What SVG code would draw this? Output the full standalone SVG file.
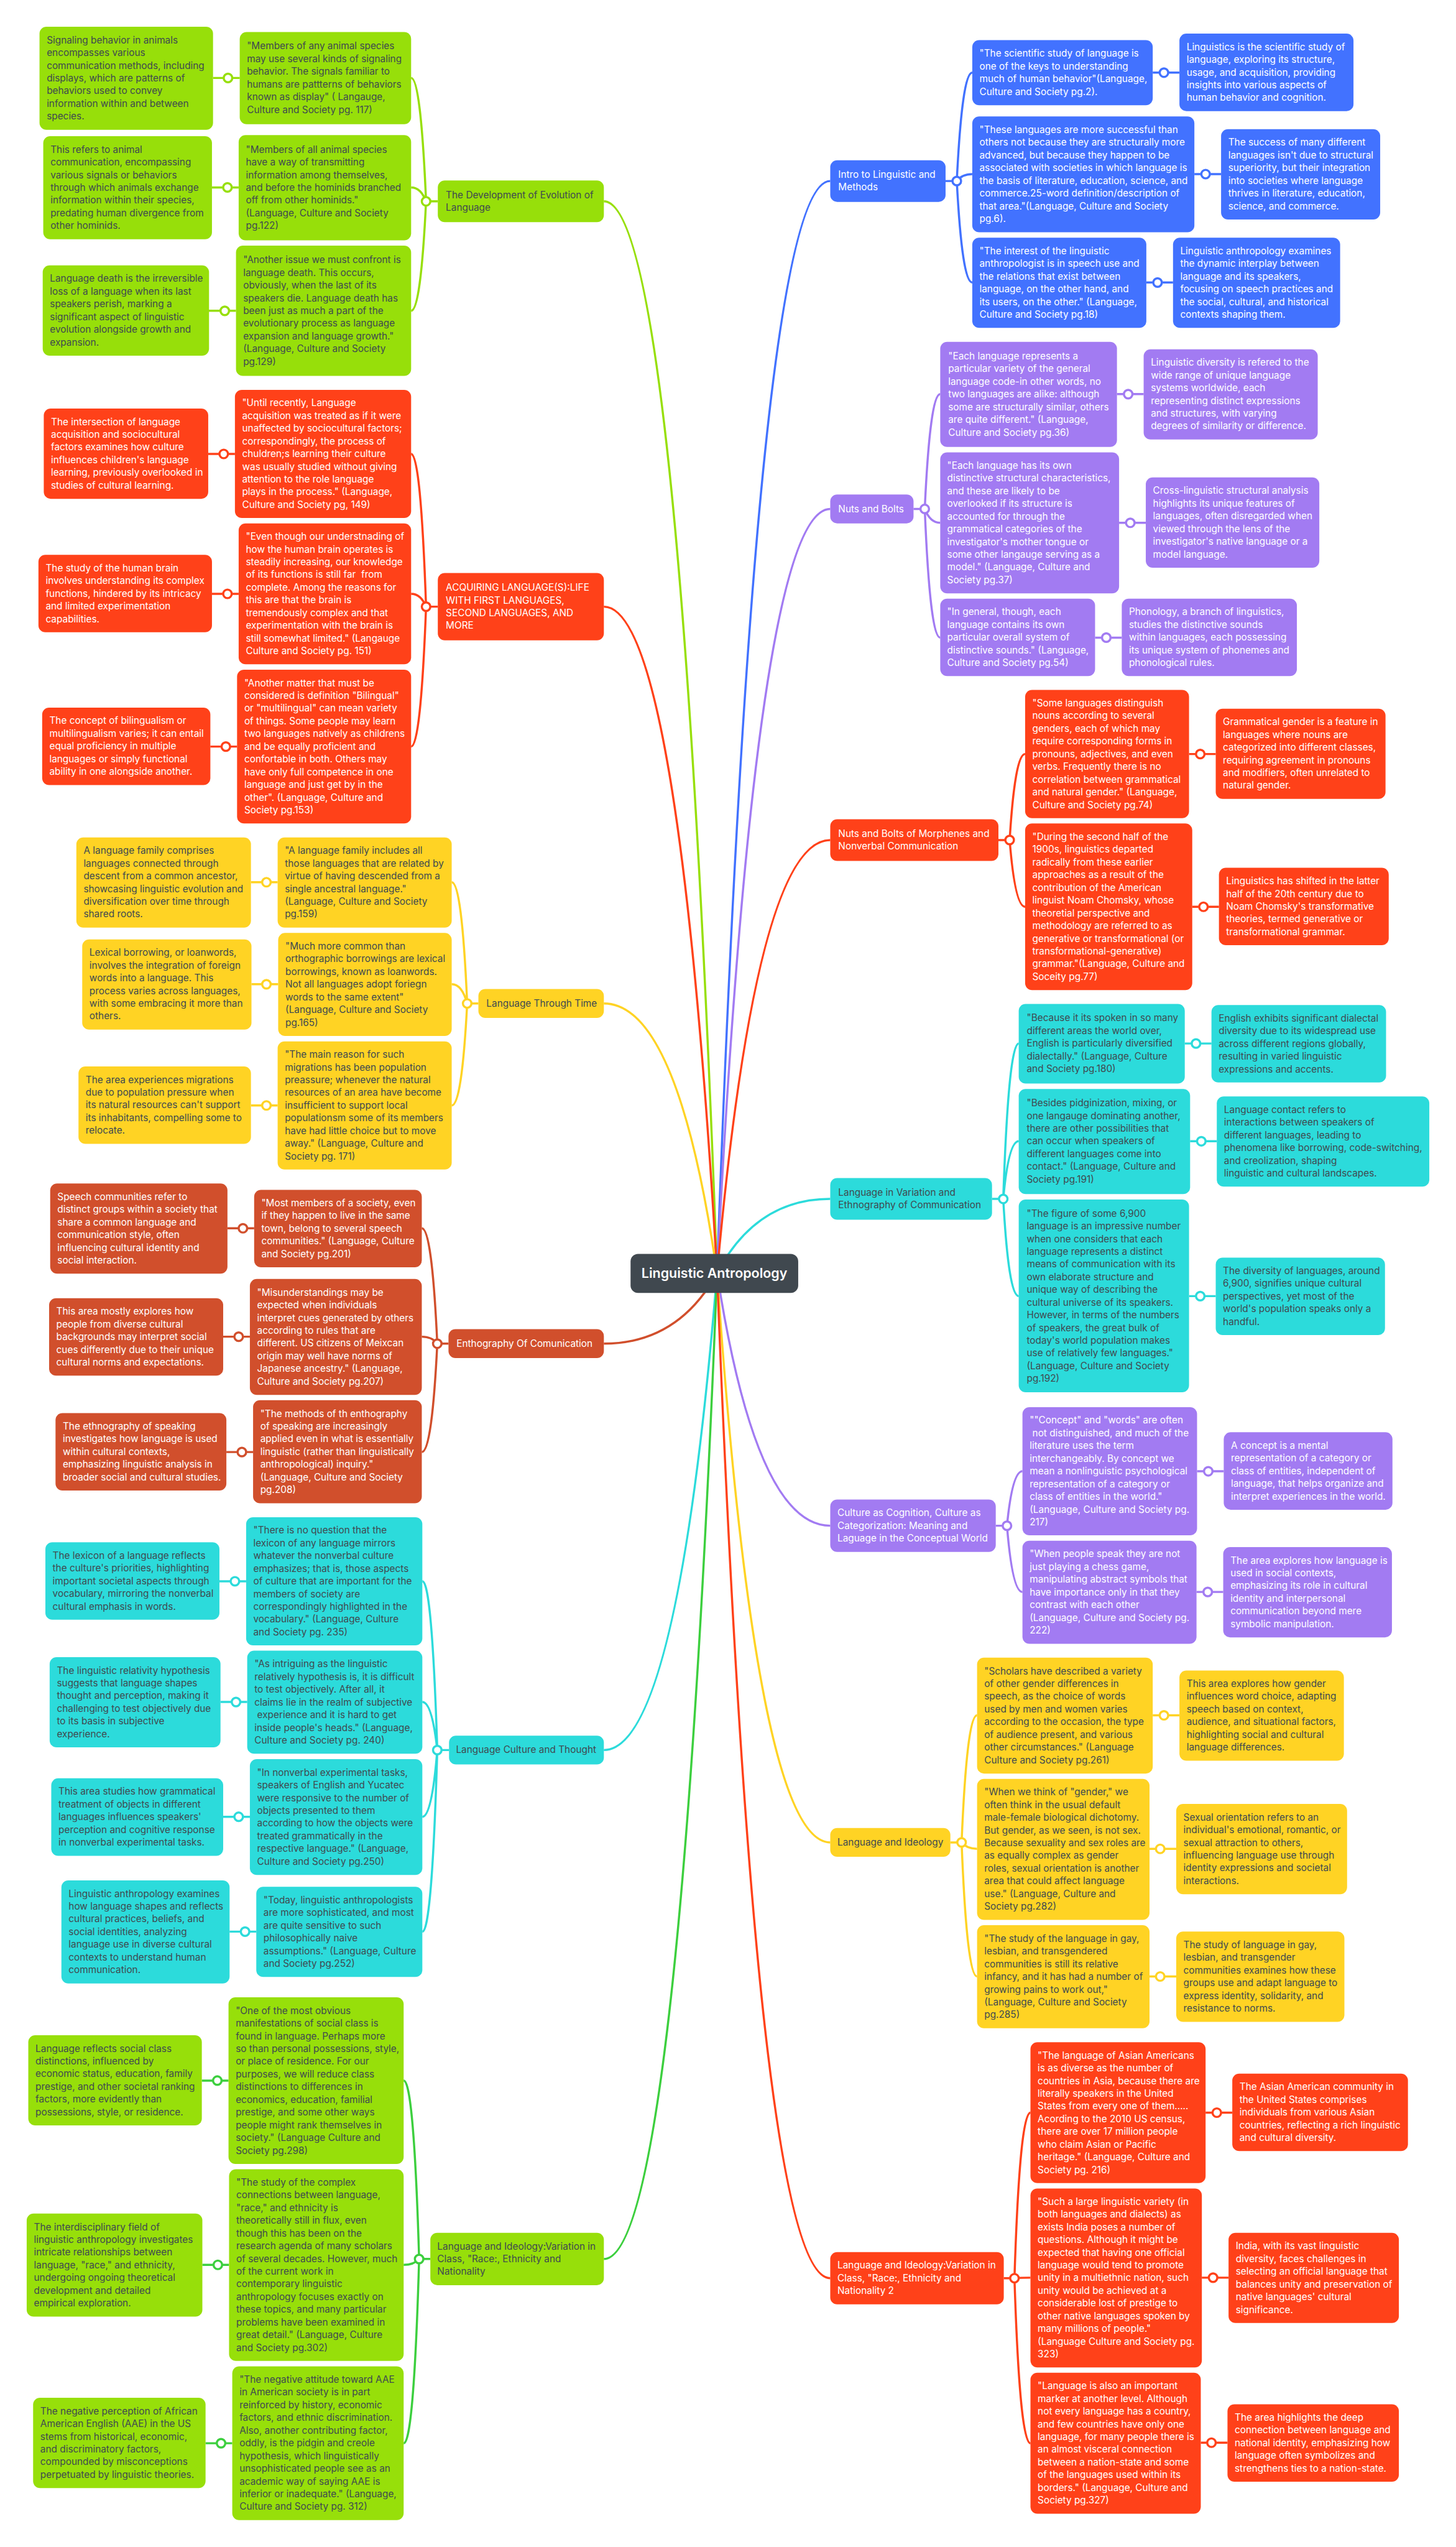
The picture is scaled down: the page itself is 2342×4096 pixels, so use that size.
<svg xmlns="http://www.w3.org/2000/svg" width="2342" height="4096" viewBox="0 0 2342 4096">
<style>
rect{rx:13px;ry:13px}
text{font-family:Inter,"Noto Sans","Liberation Sans",sans-serif;font-size:17.9px;white-space:pre}
.g rect,.g2 rect{fill:#97DF0A}.r rect{fill:#FF4119}.y rect{fill:#FFD324}.t rect{fill:#2CDBDB}.br rect{fill:#D14F2C}.b rect{fill:#4272FF}.p rect{fill:#A27BF2}
.g text,.g2 text,.y text,.t text{fill:#404A50}
.r text,.br text,.b text,.p text{fill:#fff}
#connectors path{fill:none;stroke-width:4}
#connectors circle{fill:#fff;stroke-width:4;r:8px}
.g{stroke:#97DF0A}.g2{stroke:#3CCF3E}.r{stroke:#FF4119}.y{stroke:#FFD324}.t{stroke:#2CDBDB}.br{stroke:#D14F2C}.b{stroke:#4272FF}.p{stroke:#A27BF2}
g.g,g.g2,g.r,g.y,g.t,g.br,g.b,g.p{stroke-width:0}
#connectors g{stroke-width:4}
</style>
<g transform="scale(0.85882)">
<g id="connectors">
<g class="g"><path d="M1343 2384Q1270 377 1131 377M820 377H798M798 377Q788 146 770 146M798 377Q788 351 770 351M798 377Q788 582 770 582M399 146H449M397 351H447M391 582H442"/><circle cx="798" cy="377" r="8"/><circle cx="427" cy="146" r="8"/><circle cx="426" cy="351" r="8"/><circle cx="421" cy="582" r="8"/></g>
<g class="r"><path d="M1343 2384Q1270 1136 1131 1136M820 1136H798M798 1136Q788 850 770 850M798 1136Q788 1112 770 1112M798 1136Q788 1398 770 1398M390 850H440M397 1112H447M394 1398H444"/><circle cx="798" cy="1136" r="8"/><circle cx="419" cy="850" r="8"/><circle cx="426" cy="1112" r="8"/><circle cx="423" cy="1398" r="8"/></g>
<g class="y"><path d="M1343 2384Q1270 1879 1131 1879M896 1879H875M875 1879Q865 1652 846 1652M875 1879Q865 1843 846 1843M875 1879Q865 2070 846 2070M470 1652H520M471 1843H521M470 2070H520"/><circle cx="875" cy="1879" r="8"/><circle cx="499" cy="1652" r="8"/><circle cx="499" cy="1843" r="8"/><circle cx="499" cy="2070" r="8"/></g>
<g class="br"><path d="M1343 2384Q1270 2516 1131 2516M840 2516H819M819 2516Q809 2300 790 2300M819 2516Q809 2503 790 2503M819 2516Q809 2719 790 2719M426 2300H476M418 2503H468M424 2719H474"/><circle cx="819" cy="2516" r="8"/><circle cx="455" cy="2300" r="8"/><circle cx="447" cy="2503" r="8"/><circle cx="453" cy="2719" r="8"/></g>
<g class="t"><path d="M1343 2384Q1270 3277 1131 3277M841 3277H819M819 3277Q809 2961 791 2961M819 3277Q809 3187 791 3187M819 3277Q809 3402 791 3402M819 3277Q809 3617 791 3617M411 2961H461M413 3187H463M418 3402H468M430 3617H480"/><circle cx="819" cy="3277" r="8"/><circle cx="440" cy="2961" r="8"/><circle cx="442" cy="3187" r="8"/><circle cx="447" cy="3402" r="8"/><circle cx="459" cy="3617" r="8"/></g>
<g class="g2"><path d="M1343 2384Q1270 4230 1131 4230M806 4230H785M785 4230Q775 3896 756 3896M785 4230Q775 4241 756 4241M785 4230Q775 4575 756 4575M378 3896H428M379 4241H429M385 4575H435"/><circle cx="785" cy="4230" r="8"/><circle cx="407" cy="3896" r="8"/><circle cx="408" cy="4241" r="8"/><circle cx="414" cy="4575" r="8"/></g>
<g class="b"><path d="M1343 2384Q1416 339 1555 339M1771 339H1792M1792 339Q1802 136 1821 136M1792 339Q1802 326 1821 326M1792 339Q1802 529 1821 529M2159 136H2209M2237 326H2287M2147 529H2197"/><circle cx="1792" cy="339" r="8"/><circle cx="2180" cy="136" r="8"/><circle cx="2258" cy="326" r="8"/><circle cx="2168" cy="529" r="8"/></g>
<g class="p"><path d="M1343 2384Q1416 953 1555 953M1711 953H1732M1732 953Q1742 738 1761 738M1732 953Q1742 979 1761 979M1732 953Q1742 1194 1761 1194M2092 738H2142M2096 979H2146M2051 1194H2101"/><circle cx="1732" cy="953" r="8"/><circle cx="2113" cy="738" r="8"/><circle cx="2117" cy="979" r="8"/><circle cx="2072" cy="1194" r="8"/></g>
<g class="r"><path d="M1343 2384Q1416 1573 1555 1573M1870 1573H1891M1891 1573Q1901 1412 1920 1412M1891 1573Q1901 1698 1920 1698M2227 1412H2277M2233 1698H2283"/><circle cx="1891" cy="1573" r="8"/><circle cx="2248" cy="1412" r="8"/><circle cx="2254" cy="1698" r="8"/></g>
<g class="t"><path d="M1343 2384Q1416 2245 1555 2245M1858 2245H1879M1879 2245Q1889 1954 1908 1954M1879 2245Q1889 2137 1908 2137M1879 2245Q1889 2427 1908 2427M2219 1954H2269M2229 2137H2279M2227 2427H2277"/><circle cx="1879" cy="2245" r="8"/><circle cx="2240" cy="1954" r="8"/><circle cx="2250" cy="2137" r="8"/><circle cx="2248" cy="2427" r="8"/></g>
<g class="p"><path d="M1343 2384Q1416 2857 1555 2857M1865 2857H1886M1886 2857Q1896 2755 1915 2755M1886 2857Q1896 2981 1915 2981M2242 2755H2292M2241 2981H2291"/><circle cx="1886" cy="2857" r="8"/><circle cx="2263" cy="2755" r="8"/><circle cx="2262" cy="2981" r="8"/></g>
<g class="y"><path d="M1343 2384Q1416 3450 1555 3450M1780 3450H1801M1801 3450Q1811 3212 1830 3212M1801 3450Q1811 3462 1830 3462M1801 3450Q1811 3701 1830 3701M2159 3212H2209M2153 3462H2203M2153 3701H2203"/><circle cx="1801" cy="3450" r="8"/><circle cx="2180" cy="3212" r="8"/><circle cx="2173" cy="3462" r="8"/><circle cx="2173" cy="3701" r="8"/></g>
<g class="r"><path d="M1343 2384Q1416 4266 1555 4266M1880 4266H1900M1900 4266Q1910 3956 1930 3956M1900 4266Q1910 4265 1930 4265M1900 4266Q1910 4575 1930 4575M2258 3956H2308M2251 4265H2301M2249 4574H2299"/><circle cx="1900" cy="4266" r="8"/><circle cx="2279" cy="3956" r="8"/><circle cx="2272" cy="4265" r="8"/><circle cx="2269" cy="4574" r="8"/></g>
</g>

<g id="root"><rect x="1181" y="2348" width="314" height="73" fill="#40484F" style="rx:14px;ry:14px"/><text x="1338" y="2393" text-anchor="middle" fill="#fff" style="font-size:25px;font-weight:600">Linguistic Antropology</text></g>

<g class="g">
<g id="n-t1"><rect x="820" y="338" width="311" height="78"/><text y="371.1"><tspan x="835">The Development of Evolution of</tspan><tspan x="835" dy="23.8">Language</tspan></text></g>
<g id="n-q1a"><rect x="449" y="60" width="321" height="172.5"/><text y="92.5"><tspan x="462.5">"Members of any animal species</tspan><tspan x="462.5" dy="23.8">may use several kinds of signaling</tspan><tspan x="462.5" dy="23.8">behavior. The signals familiar to</tspan><tspan x="462.5" dy="23.8">humans are pattterns of behaviors</tspan><tspan x="462.5" dy="23.8">known as display" ( Langauge,</tspan><tspan x="462.5" dy="23.8">Culture and Society pg. 117)</tspan></text></g>
<g id="n-l1a"><rect x="74" y="50" width="325" height="193"/><text y="81.1"><tspan x="87.5">Signaling behavior in animals</tspan><tspan x="87.5" dy="23.8">encompasses various</tspan><tspan x="87.5" dy="23.8">communication methods, including</tspan><tspan x="87.5" dy="23.8">displays, which are patterns of</tspan><tspan x="87.5" dy="23.8">behaviors used to convey</tspan><tspan x="87.5" dy="23.8">information within and between</tspan><tspan x="87.5" dy="23.8">species.</tspan></text></g>
<g id="n-q1b"><rect x="447" y="253" width="323" height="197"/><text y="286.1"><tspan x="460.5">"Members of all animal species</tspan><tspan x="460.5" dy="23.8">have a way of transmitting</tspan><tspan x="460.5" dy="23.8">information among themselves,</tspan><tspan x="460.5" dy="23.8">and before the hominids branched</tspan><tspan x="460.5" dy="23.8">off from other hominids."</tspan><tspan x="460.5" dy="23.8">(Language, Culture and Society</tspan><tspan x="460.5" dy="23.8">pg.122)</tspan></text></g>
<g id="n-l1b"><rect x="81" y="255" width="316" height="193"/><text y="286.1"><tspan x="94.5">This refers to animal</tspan><tspan x="94.5" dy="23.8">communication, encompassing</tspan><tspan x="94.5" dy="23.8">various signals or behaviors</tspan><tspan x="94.5" dy="23.8">through which animals exchange</tspan><tspan x="94.5" dy="23.8">information within their species,</tspan><tspan x="94.5" dy="23.8">predating human divergence from</tspan><tspan x="94.5" dy="23.8">other hominids.</tspan></text></g>
<g id="n-q1c"><rect x="442" y="460" width="328" height="244"/><text y="492.8"><tspan x="455.5">"Another issue we must confront is</tspan><tspan x="455.5" dy="23.8">language death. This occurs,</tspan><tspan x="455.5" dy="23.8">obviously, when the last of its</tspan><tspan x="455.5" dy="23.8">speakers die. Language death has</tspan><tspan x="455.5" dy="23.8">been just as much a part of the</tspan><tspan x="455.5" dy="23.8">evolutionary process as language</tspan><tspan x="455.5" dy="23.8">expansion and language growth."</tspan><tspan x="455.5" dy="23.8">(Language, Culture and Society</tspan><tspan x="455.5" dy="23.8">pg.129)</tspan></text></g>
<g id="n-l1c"><rect x="80" y="497" width="311.5" height="169"/><text y="528"><tspan x="93.5">Language death is the irreversible</tspan><tspan x="93.5" dy="23.8">loss of a language when its last</tspan><tspan x="93.5" dy="23.8">speakers perish, marking a</tspan><tspan x="93.5" dy="23.8">significant aspect of linguistic</tspan><tspan x="93.5" dy="23.8">evolution alongside growth and</tspan><tspan x="93.5" dy="23.8">expansion.</tspan></text></g>
</g>

<g class="r">
<g id="n-t2"><rect x="820" y="1073" width="311" height="126"/><text y="1106.3"><tspan x="835">ACQUIRING LANGUAGE(S):LIFE</tspan><tspan x="835" dy="23.8">WITH FIRST LANGUAGES,</tspan><tspan x="835" dy="23.8">SECOND LANGUAGES, AND</tspan><tspan x="835" dy="23.8">MORE</tspan></text></g>
<g id="n-q2a"><rect x="440" y="730" width="330" height="240"/><text y="760.8"><tspan x="453.5">"Until recently, Language</tspan><tspan x="453.5" dy="23.8">acquisition was treated as if it were</tspan><tspan x="453.5" dy="23.8">unaffected by sociocultural factors;</tspan><tspan x="453.5" dy="23.8">correspondingly, the process of</tspan><tspan x="453.5" dy="23.8">chuldren;s learning their culture</tspan><tspan x="453.5" dy="23.8">was usually studied without giving</tspan><tspan x="453.5" dy="23.8">attention to the role language</tspan><tspan x="453.5" dy="23.8">plays in the process." (Language,</tspan><tspan x="453.5" dy="23.8">Culture and Society pg, 149)</tspan></text></g>
<g id="n-l2a"><rect x="82" y="765" width="308" height="169"/><text y="796"><tspan x="95.5">The intersection of language</tspan><tspan x="95.5" dy="23.8">acquisition and sociocultural</tspan><tspan x="95.5" dy="23.8">factors examines how culture</tspan><tspan x="95.5" dy="23.8">influences children's language</tspan><tspan x="95.5" dy="23.8">learning, previously overlooked in</tspan><tspan x="95.5" dy="23.8">studies of cultural learning.</tspan></text></g>
<g id="n-q2b"><rect x="447" y="980" width="323" height="264"/><text y="1010.9"><tspan x="460.5">"Even though our understnading of</tspan><tspan x="460.5" dy="23.8">how the human brain operates is</tspan><tspan x="460.5" dy="23.8">steadily increasing, our knowledge</tspan><tspan x="460.5" dy="23.8">of its functions is still far  from</tspan><tspan x="460.5" dy="23.8">complete. Among the reasons for</tspan><tspan x="460.5" dy="23.8">this are that the brain is</tspan><tspan x="460.5" dy="23.8">tremendously complex and that</tspan><tspan x="460.5" dy="23.8">experimentation with the brain is</tspan><tspan x="460.5" dy="23.8">still somewhat limited." (Langauge</tspan><tspan x="460.5" dy="23.8">Culture and Society pg. 151)</tspan></text></g>
<g id="n-l2b"><rect x="72" y="1039" width="325" height="145"/><text y="1069.9"><tspan x="85.5">The study of the human brain</tspan><tspan x="85.5" dy="23.8">involves understanding its complex</tspan><tspan x="85.5" dy="23.8">functions, hindered by its intricacy</tspan><tspan x="85.5" dy="23.8">and limited experimentation</tspan><tspan x="85.5" dy="23.8">capabilities.</tspan></text></g>
<g id="n-q2c"><rect x="444" y="1254" width="326" height="288"/><text y="1285"><tspan x="457.5">"Another matter that must be</tspan><tspan x="457.5" dy="23.8">considered is definition "Bilingual"</tspan><tspan x="457.5" dy="23.8">or "multilingual" can mean variety</tspan><tspan x="457.5" dy="23.8">of things. Some people may learn</tspan><tspan x="457.5" dy="23.8">two languages natively as childrens</tspan><tspan x="457.5" dy="23.8">and be equally proficient and</tspan><tspan x="457.5" dy="23.8">confortable in both. Others may</tspan><tspan x="457.5" dy="23.8">have only full competence in one</tspan><tspan x="457.5" dy="23.8">language and just get by in the</tspan><tspan x="457.5" dy="23.8">other". (Language, Culture and</tspan><tspan x="457.5" dy="23.8">Society pg.153)</tspan></text></g>
<g id="n-l2c"><rect x="79" y="1325" width="315" height="145"/><text y="1355.9"><tspan x="92.5">The concept of bilingualism or</tspan><tspan x="92.5" dy="23.8">multilingualism varies; it can entail</tspan><tspan x="92.5" dy="23.8">equal proficiency in multiple</tspan><tspan x="92.5" dy="23.8">languages or simply functional</tspan><tspan x="92.5" dy="23.8">ability in one alongside another.</tspan></text></g>
</g>

<g class="y">
<g id="n-t3"><rect x="896" y="1852" width="235" height="54"/><text y="1885"><tspan x="911">Language Through Time</tspan></text></g>
<g id="n-q3a"><rect x="520" y="1568" width="326" height="169"/><text y="1599"><tspan x="533.5">"A language family includes all</tspan><tspan x="533.5" dy="23.8">those languages that are related by</tspan><tspan x="533.5" dy="23.8">virtue of having descended from a</tspan><tspan x="533.5" dy="23.8">single ancestral language."</tspan><tspan x="533.5" dy="23.8">(Language, Culture and Society</tspan><tspan x="533.5" dy="23.8">pg.159)</tspan></text></g>
<g id="n-l3a"><rect x="143" y="1568" width="327" height="169"/><text y="1599"><tspan x="156.5">A language family comprises</tspan><tspan x="156.5" dy="23.8">languages connected through</tspan><tspan x="156.5" dy="23.8">descent from a common ancestor,</tspan><tspan x="156.5" dy="23.8">showcasing linguistic evolution and</tspan><tspan x="156.5" dy="23.8">diversification over time through</tspan><tspan x="156.5" dy="23.8">shared roots.</tspan></text></g>
<g id="n-q3b"><rect x="521" y="1747" width="325" height="193"/><text y="1778.1"><tspan x="534.5">"Much more common than</tspan><tspan x="534.5" dy="23.8">orthographic borrowings are lexical</tspan><tspan x="534.5" dy="23.8">borrowings, known as loanwords.</tspan><tspan x="534.5" dy="23.8">Not all languages adopt foriegn</tspan><tspan x="534.5" dy="23.8">words to the same extent"</tspan><tspan x="534.5" dy="23.8">(Language, Culture and Society</tspan><tspan x="534.5" dy="23.8">pg.165)</tspan></text></g>
<g id="n-l3b"><rect x="154" y="1759" width="317" height="169"/><text y="1790"><tspan x="167.5">Lexical borrowing, or loanwords,</tspan><tspan x="167.5" dy="23.8">involves the integration of foreign</tspan><tspan x="167.5" dy="23.8">words into a language. This</tspan><tspan x="167.5" dy="23.8">process varies across languages,</tspan><tspan x="167.5" dy="23.8">with some embracing it more than</tspan><tspan x="167.5" dy="23.8">others.</tspan></text></g>
<g id="n-q3c"><rect x="520" y="1950" width="326" height="240"/><text y="1980.8"><tspan x="533.5">"The main reason for such</tspan><tspan x="533.5" dy="23.8">migrations has been population</tspan><tspan x="533.5" dy="23.8">preassure; whenever the natural</tspan><tspan x="533.5" dy="23.8">resources of an area have become</tspan><tspan x="533.5" dy="23.8">insufficient to support local</tspan><tspan x="533.5" dy="23.8">populationsm some of its members</tspan><tspan x="533.5" dy="23.8">have had little choice but to move</tspan><tspan x="533.5" dy="23.8">away." (Language, Culture and</tspan><tspan x="533.5" dy="23.8">Society pg. 171)</tspan></text></g>
<g id="n-l3c"><rect x="147" y="1997" width="323" height="145"/><text y="2027.9"><tspan x="160.5">The area experiences migrations</tspan><tspan x="160.5" dy="23.8">due to population pressure when</tspan><tspan x="160.5" dy="23.8">its natural resources can't support</tspan><tspan x="160.5" dy="23.8">its inhabitants, compelling some to</tspan><tspan x="160.5" dy="23.8">relocate.</tspan></text></g>
</g>

<g class="br">
<g id="n-t4"><rect x="840" y="2489" width="291" height="54"/><text y="2522"><tspan x="855">Enthography Of Comunication</tspan></text></g>
<g id="n-q4a"><rect x="476" y="2228" width="314" height="145"/><text y="2258.9"><tspan x="489.5">"Most members of a society, even</tspan><tspan x="489.5" dy="23.8">if they happen to live in the same</tspan><tspan x="489.5" dy="23.8">town, belong to several speech</tspan><tspan x="489.5" dy="23.8">communities." (Language, Culture</tspan><tspan x="489.5" dy="23.8">and Society pg.201)</tspan></text></g>
<g id="n-l4a"><rect x="94" y="2216" width="332" height="169"/><text y="2247"><tspan x="107.5">Speech communities refer to</tspan><tspan x="107.5" dy="23.8">distinct groups within a society that</tspan><tspan x="107.5" dy="23.8">share a common language and</tspan><tspan x="107.5" dy="23.8">communication style, often</tspan><tspan x="107.5" dy="23.8">influencing cultural identity and</tspan><tspan x="107.5" dy="23.8">social interaction.</tspan></text></g>
<g id="n-q4b"><rect x="468" y="2395" width="322" height="217"/><text y="2426.2"><tspan x="481.5">"Misunderstandings may be</tspan><tspan x="481.5" dy="23.8">expected when individuals</tspan><tspan x="481.5" dy="23.8">interpret cues generated by others</tspan><tspan x="481.5" dy="23.8">according to rules that are</tspan><tspan x="481.5" dy="23.8">different. US citizens of Meixcan</tspan><tspan x="481.5" dy="23.8">origin may well have norms of</tspan><tspan x="481.5" dy="23.8">Japanese ancestry." (Language,</tspan><tspan x="481.5" dy="23.8">Culture and Society pg.207)</tspan></text></g>
<g id="n-l4b"><rect x="92" y="2431" width="326" height="145"/><text y="2461.9"><tspan x="105.5">This area mostly explores how</tspan><tspan x="105.5" dy="23.8">people from diverse cultural</tspan><tspan x="105.5" dy="23.8">backgrounds may interpret social</tspan><tspan x="105.5" dy="23.8">cues differently due to their unique</tspan><tspan x="105.5" dy="23.8">cultural norms and expectations.</tspan></text></g>
<g id="n-q4c"><rect x="474" y="2622" width="316" height="193"/><text y="2653.1"><tspan x="487.5">"The methods of th enthography</tspan><tspan x="487.5" dy="23.8">of speaking are increasingly</tspan><tspan x="487.5" dy="23.8">applied even in what is essentially</tspan><tspan x="487.5" dy="23.8">linguistic (rather than linguistically</tspan><tspan x="487.5" dy="23.8">anthropological) inquiry."</tspan><tspan x="487.5" dy="23.8">(Language, Culture and Society</tspan><tspan x="487.5" dy="23.8">pg.208)</tspan></text></g>
<g id="n-l4c"><rect x="104" y="2646" width="320" height="145"/><text y="2676.9"><tspan x="117.5">The ethnography of speaking</tspan><tspan x="117.5" dy="23.8">investigates how language is used</tspan><tspan x="117.5" dy="23.8">within cultural contexts,</tspan><tspan x="117.5" dy="23.8">emphasizing linguistic analysis in</tspan><tspan x="117.5" dy="23.8">broader social and cultural studies.</tspan></text></g>
</g>

<g class="t">
<g id="n-t5"><rect x="841" y="3250" width="290" height="54"/><text y="3283"><tspan x="854">Language Culture and Thought</tspan></text></g>
<g id="n-q5a"><rect x="461" y="2841" width="330" height="240"/><text y="2871.8"><tspan x="474.5">"There is no question that the</tspan><tspan x="474.5" dy="23.8">lexicon of any language mirrors</tspan><tspan x="474.5" dy="23.8">whatever the nonverbal culture</tspan><tspan x="474.5" dy="23.8">emphasizes; that is, those aspects</tspan><tspan x="474.5" dy="23.8">of culture that are important for the</tspan><tspan x="474.5" dy="23.8">members of society are</tspan><tspan x="474.5" dy="23.8">correspondingly highlighted in the</tspan><tspan x="474.5" dy="23.8">vocabulary." (Language, Culture</tspan><tspan x="474.5" dy="23.8">and Society pg. 235)</tspan></text></g>
<g id="n-l5a"><rect x="85" y="2888" width="326" height="145"/><text y="2918.9"><tspan x="98.5">The lexicon of a language reflects</tspan><tspan x="98.5" dy="23.8">the culture's priorities, highlighting</tspan><tspan x="98.5" dy="23.8">important societal aspects through</tspan><tspan x="98.5" dy="23.8">vocabulary, mirroring the nonverbal</tspan><tspan x="98.5" dy="23.8">cultural emphasis in words.</tspan></text></g>
<g id="n-q5b"><rect x="463" y="3091" width="328" height="193"/><text y="3122.1"><tspan x="476.5">"As intriguing as the linguistic</tspan><tspan x="476.5" dy="23.8">relatively hypothesis is, it is difficult</tspan><tspan x="476.5" dy="23.8">to test objectively. After all, it</tspan><tspan x="476.5" dy="23.8">claims lie in the realm of subjective</tspan><tspan x="476.5" dy="23.8"> experience and it is hard to get</tspan><tspan x="476.5" dy="23.8">inside people's heads." (Language,</tspan><tspan x="476.5" dy="23.8">Culture and Society pg. 240)</tspan></text></g>
<g id="n-l5b"><rect x="93" y="3103" width="320" height="169"/><text y="3134"><tspan x="106.5">The linguistic relativity hypothesis</tspan><tspan x="106.5" dy="23.8">suggests that language shapes</tspan><tspan x="106.5" dy="23.8">thought and perception, making it</tspan><tspan x="106.5" dy="23.8">challenging to test objectively due</tspan><tspan x="106.5" dy="23.8">to its basis in subjective</tspan><tspan x="106.5" dy="23.8">experience.</tspan></text></g>
<g id="n-q5c"><rect x="468" y="3294" width="323" height="217"/><text y="3325.2"><tspan x="481.5">"In nonverbal experimental tasks,</tspan><tspan x="481.5" dy="23.8">speakers of English and Yucatec</tspan><tspan x="481.5" dy="23.8">were responsive to the number of</tspan><tspan x="481.5" dy="23.8">objects presented to them</tspan><tspan x="481.5" dy="23.8">according to how the objects were</tspan><tspan x="481.5" dy="23.8">treated grammatically in the</tspan><tspan x="481.5" dy="23.8">respective language." (Language,</tspan><tspan x="481.5" dy="23.8">Culture and Society pg.250)</tspan></text></g>
<g id="n-l5c"><rect x="96" y="3330" width="322" height="145"/><text y="3360.9"><tspan x="109.5">This area studies how grammatical</tspan><tspan x="109.5" dy="23.8">treatment of objects in different</tspan><tspan x="109.5" dy="23.8">languages influences speakers'</tspan><tspan x="109.5" dy="23.8">perception and cognitive response</tspan><tspan x="109.5" dy="23.8">in nonverbal experimental tasks.</tspan></text></g>
<g id="n-q5d"><rect x="480" y="3533" width="311" height="169"/><text y="3564"><tspan x="493.5">"Today, linguistic anthropologists</tspan><tspan x="493.5" dy="23.8">are more sophisticated, and most</tspan><tspan x="493.5" dy="23.8">are quite sensitive to such</tspan><tspan x="493.5" dy="23.8">philosophically naive</tspan><tspan x="493.5" dy="23.8">assumptions." (Language, Culture</tspan><tspan x="493.5" dy="23.8">and Society pg.252)</tspan></text></g>
<g id="n-l5d"><rect x="115" y="3521" width="315" height="193"/><text y="3552.1"><tspan x="128.5">Linguistic anthropology examines</tspan><tspan x="128.5" dy="23.8">how language shapes and reflects</tspan><tspan x="128.5" dy="23.8">cultural practices, beliefs, and</tspan><tspan x="128.5" dy="23.8">social identities, analyzing</tspan><tspan x="128.5" dy="23.8">language use in diverse cultural</tspan><tspan x="128.5" dy="23.8">contexts to understand human</tspan><tspan x="128.5" dy="23.8">communication.</tspan></text></g>
</g>

<g class="g2">
<g id="n-t6"><rect x="806" y="4181" width="325" height="98"/><text y="4212.2"><tspan x="819">Language and Ideology:Variation in</tspan><tspan x="819" dy="23.8">Class, "Race:, Ethnicity and</tspan><tspan x="819" dy="23.8">Nationality</tspan></text></g>
<g id="n-q6a"><rect x="428" y="3740" width="328" height="312"/><text y="3771.1"><tspan x="441.5">"One of the most obvious</tspan><tspan x="441.5" dy="23.8">manifestations of social class is</tspan><tspan x="441.5" dy="23.8">found in language. Perhaps more</tspan><tspan x="441.5" dy="23.8">so than personal possessions, style,</tspan><tspan x="441.5" dy="23.8">or place of residence. For our</tspan><tspan x="441.5" dy="23.8">purposes, we will reduce class</tspan><tspan x="441.5" dy="23.8">distinctions to differences in</tspan><tspan x="441.5" dy="23.8">economics, education, familial</tspan><tspan x="441.5" dy="23.8">prestige, and some other ways</tspan><tspan x="441.5" dy="23.8">people might rank themselves in</tspan><tspan x="441.5" dy="23.8">society." (Language Culture and</tspan><tspan x="441.5" dy="23.8">Society pg.298)</tspan></text></g>
<g id="n-l6a"><rect x="53" y="3811" width="325" height="169"/><text y="3842"><tspan x="66.5">Language reflects social class</tspan><tspan x="66.5" dy="23.8">distinctions, influenced by</tspan><tspan x="66.5" dy="23.8">economic status, education, family</tspan><tspan x="66.5" dy="23.8">prestige, and other societal ranking</tspan><tspan x="66.5" dy="23.8">factors, more evidently than</tspan><tspan x="66.5" dy="23.8">possessions, style, or residence.</tspan></text></g>
<g id="n-q6b"><rect x="429" y="4062" width="327" height="359"/><text y="4092.8"><tspan x="442.5">"The study of the complex</tspan><tspan x="442.5" dy="23.8">connections between language,</tspan><tspan x="442.5" dy="23.8">"race," and ethnicity is</tspan><tspan x="442.5" dy="23.8">theoretically still in flux, even</tspan><tspan x="442.5" dy="23.8">though this has been on the</tspan><tspan x="442.5" dy="23.8">research agenda of many scholars</tspan><tspan x="442.5" dy="23.8">of several decades. However, much</tspan><tspan x="442.5" dy="23.8">of the current work in</tspan><tspan x="442.5" dy="23.8">contemporary linguistic</tspan><tspan x="442.5" dy="23.8">anthropology focuses exactly on</tspan><tspan x="442.5" dy="23.8">these topics, and many particular</tspan><tspan x="442.5" dy="23.8">problems have been examined in</tspan><tspan x="442.5" dy="23.8">great detail." (Language, Culture</tspan><tspan x="442.5" dy="23.8">and Society pg.302)</tspan></text></g>
<g id="n-l6b"><rect x="50" y="4145" width="329" height="193"/><text y="4176.1"><tspan x="63.5">The interdisciplinary field of</tspan><tspan x="63.5" dy="23.8">linguistic anthropology investigates</tspan><tspan x="63.5" dy="23.8">intricate relationships between</tspan><tspan x="63.5" dy="23.8">language, "race," and ethnicity,</tspan><tspan x="63.5" dy="23.8">undergoing ongoing theoretical</tspan><tspan x="63.5" dy="23.8">development and detailed</tspan><tspan x="63.5" dy="23.8">empirical exploration.</tspan></text></g>
<g id="n-q6c"><rect x="435" y="4431" width="321" height="288"/><text y="4462"><tspan x="448.5">"The negative attitude toward AAE</tspan><tspan x="448.5" dy="23.8">in American society is in part</tspan><tspan x="448.5" dy="23.8">reinforced by history, economic</tspan><tspan x="448.5" dy="23.8">factors, and ethnic discrimination.</tspan><tspan x="448.5" dy="23.8">Also, another contributing factor,</tspan><tspan x="448.5" dy="23.8">oddly, is the pidgin and creole</tspan><tspan x="448.5" dy="23.8">hypothesis, which linguistically</tspan><tspan x="448.5" dy="23.8">unsophisticated people see as an</tspan><tspan x="448.5" dy="23.8">academic way of saying AAE is</tspan><tspan x="448.5" dy="23.8">inferior or inadequate." (Language,</tspan><tspan x="448.5" dy="23.8">Culture and Society pg. 312)</tspan></text></g>
<g id="n-l6c"><rect x="62" y="4490" width="323" height="169"/><text y="4521"><tspan x="75.5">The negative perception of African</tspan><tspan x="75.5" dy="23.8">American English (AAE) in the US</tspan><tspan x="75.5" dy="23.8">stems from historical, economic,</tspan><tspan x="75.5" dy="23.8">and discriminatory factors,</tspan><tspan x="75.5" dy="23.8">compounded by misconceptions</tspan><tspan x="75.5" dy="23.8">perpetuated by linguistic theories.</tspan></text></g>
</g>

<g class="b">
<g id="n-h1"><rect x="1555" y="300" width="216" height="78"/><text y="333.1"><tspan x="1570">Intro to Linguistic and</tspan><tspan x="1570" dy="23.8">Methods</tspan></text></g>
<g id="n-q7a"><rect x="1821" y="75" width="338" height="122"/><text y="106.3"><tspan x="1834.5">"The scientific study of language is</tspan><tspan x="1834.5" dy="23.8">one of the keys to understanding</tspan><tspan x="1834.5" dy="23.8">much of human behavior"(Language,</tspan><tspan x="1834.5" dy="23.8">Culture and Society pg.2).</tspan></text></g>
<g id="n-l7a"><rect x="2209" y="63" width="326" height="145"/><text y="93.9"><tspan x="2222.5">Linguistics is the scientific study of</tspan><tspan x="2222.5" dy="23.8">language, exploring its structure,</tspan><tspan x="2222.5" dy="23.8">usage, and acquisition, providing</tspan><tspan x="2222.5" dy="23.8">insights into various aspects of</tspan><tspan x="2222.5" dy="23.8">human behavior and cognition.</tspan></text></g>
<g id="n-q7b"><rect x="1821" y="218" width="416" height="217"/><text y="249.2"><tspan x="1834.5">"These languages are more successful than</tspan><tspan x="1834.5" dy="23.8">others not because they are structurally more</tspan><tspan x="1834.5" dy="23.8">advanced, but because they happen to be</tspan><tspan x="1834.5" dy="23.8">associated with societies in which language is</tspan><tspan x="1834.5" dy="23.8">the basis of literature, education, science, and</tspan><tspan x="1834.5" dy="23.8">commerce.25-word definition/description of</tspan><tspan x="1834.5" dy="23.8">that area."(Language, Culture and Society</tspan><tspan x="1834.5" dy="23.8">pg.6).</tspan></text></g>
<g id="n-l7b"><rect x="2287" y="242" width="298" height="169"/><text y="273"><tspan x="2300.5">The success of many different</tspan><tspan x="2300.5" dy="23.8">languages isn't due to structural</tspan><tspan x="2300.5" dy="23.8">superiority, but their integration</tspan><tspan x="2300.5" dy="23.8">into societies where language</tspan><tspan x="2300.5" dy="23.8">thrives in literature, education,</tspan><tspan x="2300.5" dy="23.8">science, and commerce.</tspan></text></g>
<g id="n-q7c"><rect x="1821" y="445" width="326" height="169"/><text y="476"><tspan x="1834.5">"The interest of the linguistic</tspan><tspan x="1834.5" dy="23.8">anthropologist is in speech use and</tspan><tspan x="1834.5" dy="23.8">the relations that exist between</tspan><tspan x="1834.5" dy="23.8">language, on the other hand, and</tspan><tspan x="1834.5" dy="23.8">its users, on the other." (Language,</tspan><tspan x="1834.5" dy="23.8">Culture and Society pg.18)</tspan></text></g>
<g id="n-l7c"><rect x="2197" y="445" width="313" height="169"/><text y="476"><tspan x="2210.5">Linguistic anthropology examines</tspan><tspan x="2210.5" dy="23.8">the dynamic interplay between</tspan><tspan x="2210.5" dy="23.8">language and its speakers,</tspan><tspan x="2210.5" dy="23.8">focusing on speech practices and</tspan><tspan x="2210.5" dy="23.8">the social, cultural, and historical</tspan><tspan x="2210.5" dy="23.8">contexts shaping them.</tspan></text></g>
</g>

<g class="p">
<g id="n-h2"><rect x="1555" y="926" width="156" height="54"/><text y="959"><tspan x="1570">Nuts and Bolts</tspan></text></g>
<g id="n-q8a"><rect x="1761" y="640" width="331" height="197"/><text y="673.1"><tspan x="1776">"Each language represents a</tspan><tspan x="1776" dy="23.8">particular variety of the general</tspan><tspan x="1776" dy="23.8">language code-in other words, no</tspan><tspan x="1776" dy="23.8">two languages are alike: although</tspan><tspan x="1776" dy="23.8">some are structurally similar, others</tspan><tspan x="1776" dy="23.8">are quite different." (Language,</tspan><tspan x="1776" dy="23.8">Culture and Society pg.36)</tspan></text></g>
<g id="n-l8a"><rect x="2142" y="654" width="326" height="169"/><text y="685"><tspan x="2155.5">Linguistic diversity is refered to the</tspan><tspan x="2155.5" dy="23.8">wide range of unique language</tspan><tspan x="2155.5" dy="23.8">systems worldwide, each</tspan><tspan x="2155.5" dy="23.8">representing distinct expressions</tspan><tspan x="2155.5" dy="23.8">and structures, with varying</tspan><tspan x="2155.5" dy="23.8">degrees of similarity or difference.</tspan></text></g>
<g id="n-q8b"><rect x="1761" y="847" width="335" height="264"/><text y="877.9"><tspan x="1774">"Each language has its own</tspan><tspan x="1774" dy="23.8">distinctive structural characteristics,</tspan><tspan x="1774" dy="23.8">and these are likely to be</tspan><tspan x="1774" dy="23.8">overlooked if its structure is</tspan><tspan x="1774" dy="23.8">accounted for through the</tspan><tspan x="1774" dy="23.8">grammatical categories of the</tspan><tspan x="1774" dy="23.8">investigator's mother tongue or</tspan><tspan x="1774" dy="23.8">some other langauge serving as a</tspan><tspan x="1774" dy="23.8">model." (Language, Culture and</tspan><tspan x="1774" dy="23.8">Society pg.37)</tspan></text></g>
<g id="n-l8b"><rect x="2146" y="894" width="325" height="169"/><text y="925"><tspan x="2159.5">Cross-linguistic structural analysis</tspan><tspan x="2159.5" dy="23.8">highlights its unique features of</tspan><tspan x="2159.5" dy="23.8">languages, often disregarded when</tspan><tspan x="2159.5" dy="23.8">viewed through the lens of the</tspan><tspan x="2159.5" dy="23.8">investigator's native language or a</tspan><tspan x="2159.5" dy="23.8">model language.</tspan></text></g>
<g id="n-q8c"><rect x="1761" y="1121" width="290" height="145"/><text y="1151.9"><tspan x="1774">"In general, though, each</tspan><tspan x="1774" dy="23.8">language contains its own</tspan><tspan x="1774" dy="23.8">particular overall system of</tspan><tspan x="1774" dy="23.8">distinctive sounds." (Language,</tspan><tspan x="1774" dy="23.8">Culture and Society pg.54)</tspan></text></g>
<g id="n-l8c"><rect x="2101" y="1121" width="328" height="145"/><text y="1151.9"><tspan x="2114.5">Phonology, a branch of linguistics,</tspan><tspan x="2114.5" dy="23.8">studies the distinctive sounds</tspan><tspan x="2114.5" dy="23.8">within languages, each possessing</tspan><tspan x="2114.5" dy="23.8">its unique system of phonemes and</tspan><tspan x="2114.5" dy="23.8">phonological rules.</tspan></text></g>
</g>

<g class="r">
<g id="n-h3"><rect x="1555" y="1534" width="315" height="78"/><text y="1567.1"><tspan x="1570">Nuts and Bolts of Morphenes and</tspan><tspan x="1570" dy="23.8">Nonverbal Communication</tspan></text></g>
<g id="n-q9a"><rect x="1920" y="1292" width="307" height="240"/><text y="1322.8"><tspan x="1933.5">"Some languages distinguish</tspan><tspan x="1933.5" dy="23.8">nouns according to several</tspan><tspan x="1933.5" dy="23.8">genders, each of which may</tspan><tspan x="1933.5" dy="23.8">require corresponding forms in</tspan><tspan x="1933.5" dy="23.8">pronouns, adjectives, and even</tspan><tspan x="1933.5" dy="23.8">verbs. Frequently there is no</tspan><tspan x="1933.5" dy="23.8">correlation between grammatical</tspan><tspan x="1933.5" dy="23.8">and natural gender." (Language,</tspan><tspan x="1933.5" dy="23.8">Culture and Society pg.74)</tspan></text></g>
<g id="n-l9a"><rect x="2277" y="1327" width="318" height="169"/><text y="1358"><tspan x="2290.5">Grammatical gender is a feature in</tspan><tspan x="2290.5" dy="23.8">languages where nouns are</tspan><tspan x="2290.5" dy="23.8">categorized into different classes,</tspan><tspan x="2290.5" dy="23.8">requiring agreement in pronouns</tspan><tspan x="2290.5" dy="23.8">and modifiers, often unrelated to</tspan><tspan x="2290.5" dy="23.8">natural gender.</tspan></text></g>
<g id="n-q9b"><rect x="1920" y="1542" width="313" height="312"/><text y="1573.1"><tspan x="1933.5">"During the second half of the</tspan><tspan x="1933.5" dy="23.8">1900s, linguistics departed</tspan><tspan x="1933.5" dy="23.8">radically from these earlier</tspan><tspan x="1933.5" dy="23.8">approaches as a result of the</tspan><tspan x="1933.5" dy="23.8">contribution of the American</tspan><tspan x="1933.5" dy="23.8">linguist Noam Chomsky, whose</tspan><tspan x="1933.5" dy="23.8">theoretial perspective and</tspan><tspan x="1933.5" dy="23.8">methodology are referred to as</tspan><tspan x="1933.5" dy="23.8">generative or transformational (or</tspan><tspan x="1933.5" dy="23.8">transformational-generative)</tspan><tspan x="1933.5" dy="23.8">grammar."(Language, Culture and</tspan><tspan x="1933.5" dy="23.8">Soceity pg.77)</tspan></text></g>
<g id="n-l9b"><rect x="2283" y="1625" width="318" height="145"/><text y="1655.9"><tspan x="2296.5">Linguistics has shifted in the latter</tspan><tspan x="2296.5" dy="23.8">half of the 20th century due to</tspan><tspan x="2296.5" dy="23.8">Noam Chomsky's transformative</tspan><tspan x="2296.5" dy="23.8">theories, termed generative or</tspan><tspan x="2296.5" dy="23.8">transformational grammar.</tspan></text></g>
</g>

<g class="t">
<g id="n-h4"><rect x="1555" y="2206" width="303" height="78"/><text y="2239.1"><tspan x="1570">Language in Variation and</tspan><tspan x="1570" dy="23.8">Ethnography of Communication</tspan></text></g>
<g id="n-q10a"><rect x="1908" y="1880" width="311" height="149"/><text y="1912.4"><tspan x="1923">"Because it its spoken in so many</tspan><tspan x="1923" dy="23.8">different areas the world over,</tspan><tspan x="1923" dy="23.8">English is particularly diversified</tspan><tspan x="1923" dy="23.8">dialectally." (Language, Culture</tspan><tspan x="1923" dy="23.8">and Society pg.180)</tspan></text></g>
<g id="n-l10a"><rect x="2269" y="1882" width="327" height="145"/><text y="1912.9"><tspan x="2282.5">English exhibits significant dialectal</tspan><tspan x="2282.5" dy="23.8">diversity due to its widespread use</tspan><tspan x="2282.5" dy="23.8">across different regions globally,</tspan><tspan x="2282.5" dy="23.8">resulting in varied linguistic</tspan><tspan x="2282.5" dy="23.8">expressions and accents.</tspan></text></g>
<g id="n-q10b"><rect x="1908" y="2039" width="321" height="197"/><text y="2071.6"><tspan x="1923">"Besides pidginization, mixing, or</tspan><tspan x="1923" dy="23.8">one langauge dominating another,</tspan><tspan x="1923" dy="23.8">there are other possibilities that</tspan><tspan x="1923" dy="23.8">can occur when speakers of</tspan><tspan x="1923" dy="23.8">different languages come into</tspan><tspan x="1923" dy="23.8">contact." (Language, Culture and</tspan><tspan x="1923" dy="23.8">Society pg.191)</tspan></text></g>
<g id="n-l10b"><rect x="2279" y="2053" width="398" height="169"/><text y="2084"><tspan x="2292.5">Language contact refers to</tspan><tspan x="2292.5" dy="23.8">interactions between speakers of</tspan><tspan x="2292.5" dy="23.8">different languages, leading to</tspan><tspan x="2292.5" dy="23.8">phenomena like borrowing, code-switching,</tspan><tspan x="2292.5" dy="23.8">and creolization, shaping</tspan><tspan x="2292.5" dy="23.8">linguistic and cultural landscapes.</tspan></text></g>
<g id="n-q10c"><rect x="1908" y="2246" width="319" height="361"/><text y="2278.3"><tspan x="1923">"The figure of some 6,900</tspan><tspan x="1923" dy="23.8">language is an impressive number</tspan><tspan x="1923" dy="23.8">when one considers that each</tspan><tspan x="1923" dy="23.8">language represents a distinct</tspan><tspan x="1923" dy="23.8">means of communication with its</tspan><tspan x="1923" dy="23.8">own elaborate structure and</tspan><tspan x="1923" dy="23.8">unique way of describing the</tspan><tspan x="1923" dy="23.8">cultural universe of its speakers.</tspan><tspan x="1923" dy="23.8">However, in terms of the numbers</tspan><tspan x="1923" dy="23.8">of speakers, the great bulk of</tspan><tspan x="1923" dy="23.8">today's world population makes</tspan><tspan x="1923" dy="23.8">use of relatively few languages."</tspan><tspan x="1923" dy="23.8">(Language, Culture and Society</tspan><tspan x="1923" dy="23.8">pg.192)</tspan></text></g>
<g id="n-l10c"><rect x="2277" y="2355" width="317" height="145"/><text y="2385.9"><tspan x="2290.5">The diversity of languages, around</tspan><tspan x="2290.5" dy="23.8">6,900, signifies unique cultural</tspan><tspan x="2290.5" dy="23.8">perspectives, yet most of the</tspan><tspan x="2290.5" dy="23.8">world's population speaks only a</tspan><tspan x="2290.5" dy="23.8">handful.</tspan></text></g>
</g>

<g class="p">
<g id="n-h5"><rect x="1555" y="2808" width="310" height="98"/><text y="2839.2"><tspan x="1568.5">Culture as Cognition, Culture as</tspan><tspan x="1568.5" dy="23.8">Categorization: Meaning and</tspan><tspan x="1568.5" dy="23.8">Laguage in the Conceptual World</tspan></text></g>
<g id="n-q11a"><rect x="1915" y="2635" width="327" height="240"/><text y="2665.8"><tspan x="1928.5">""Concept" and "words" are often</tspan><tspan x="1928.5" dy="23.8"> not distinguished, and much of the</tspan><tspan x="1928.5" dy="23.8">literature uses the term</tspan><tspan x="1928.5" dy="23.8">interchangeably. By concept we</tspan><tspan x="1928.5" dy="23.8">mean a nonlinguistic psychological</tspan><tspan x="1928.5" dy="23.8">representation of a category or</tspan><tspan x="1928.5" dy="23.8">class of entities in the world."</tspan><tspan x="1928.5" dy="23.8">(Language, Culture and Society pg.</tspan><tspan x="1928.5" dy="23.8">217)</tspan></text></g>
<g id="n-l11a"><rect x="2292" y="2682" width="316" height="145"/><text y="2712.9"><tspan x="2305.5">A concept is a mental</tspan><tspan x="2305.5" dy="23.8">representation of a category or</tspan><tspan x="2305.5" dy="23.8">class of entities, independent of</tspan><tspan x="2305.5" dy="23.8">language, that helps organize and</tspan><tspan x="2305.5" dy="23.8">interpret experiences in the world.</tspan></text></g>
<g id="n-q11b"><rect x="1915" y="2885" width="326" height="193"/><text y="2916.1"><tspan x="1928.5">"When people speak they are not</tspan><tspan x="1928.5" dy="23.8">just playing a chess game,</tspan><tspan x="1928.5" dy="23.8">manipulating abstract symbols that</tspan><tspan x="1928.5" dy="23.8">have importance only in that they</tspan><tspan x="1928.5" dy="23.8">contrast with each other</tspan><tspan x="1928.5" dy="23.8">(Language, Culture and Society pg.</tspan><tspan x="1928.5" dy="23.8">222)</tspan></text></g>
<g id="n-l11b"><rect x="2291" y="2897" width="316" height="169"/><text y="2928"><tspan x="2304.5">The area explores how language is</tspan><tspan x="2304.5" dy="23.8">used in social contexts,</tspan><tspan x="2304.5" dy="23.8">emphasizing its role in cultural</tspan><tspan x="2304.5" dy="23.8">identity and interpersonal</tspan><tspan x="2304.5" dy="23.8">communication beyond mere</tspan><tspan x="2304.5" dy="23.8">symbolic manipulation.</tspan></text></g>
</g>

<g class="y">
<g id="n-h6"><rect x="1555" y="3423" width="225" height="54"/><text y="3456"><tspan x="1568.5">Language and Ideology</tspan></text></g>
<g id="n-q12a"><rect x="1830" y="3104" width="329" height="217"/><text y="3135.2"><tspan x="1843.5">"Scholars have described a variety</tspan><tspan x="1843.5" dy="23.8">of other gender differences in</tspan><tspan x="1843.5" dy="23.8">speech, as the choice of words</tspan><tspan x="1843.5" dy="23.8">used by men and women varies</tspan><tspan x="1843.5" dy="23.8">according to the occasion, the type</tspan><tspan x="1843.5" dy="23.8">of audience present, and various</tspan><tspan x="1843.5" dy="23.8">other circumstances." (Language</tspan><tspan x="1843.5" dy="23.8">Culture and Society pg.261)</tspan></text></g>
<g id="n-l12a"><rect x="2209" y="3128" width="308" height="169"/><text y="3159"><tspan x="2222.5">This area explores how gender</tspan><tspan x="2222.5" dy="23.8">influences word choice, adapting</tspan><tspan x="2222.5" dy="23.8">speech based on context,</tspan><tspan x="2222.5" dy="23.8">audience, and situational factors,</tspan><tspan x="2222.5" dy="23.8">highlighting social and cultural</tspan><tspan x="2222.5" dy="23.8">language differences.</tspan></text></g>
<g id="n-q12b"><rect x="1830" y="3331" width="323" height="264"/><text y="3361.9"><tspan x="1843.5">"When we think of "gender," we</tspan><tspan x="1843.5" dy="23.8">often think in the usual default</tspan><tspan x="1843.5" dy="23.8">male-female biological dichotomy.</tspan><tspan x="1843.5" dy="23.8">But gender, as we seen, is not sex.</tspan><tspan x="1843.5" dy="23.8">Because sexuality and sex roles are</tspan><tspan x="1843.5" dy="23.8">as equally complex as gender</tspan><tspan x="1843.5" dy="23.8">roles, sexual orientation is another</tspan><tspan x="1843.5" dy="23.8">area that could affect language</tspan><tspan x="1843.5" dy="23.8">use." (Language, Culture and</tspan><tspan x="1843.5" dy="23.8">Society pg.282)</tspan></text></g>
<g id="n-l12b"><rect x="2203" y="3378" width="320" height="169"/><text y="3409"><tspan x="2216.5">Sexual orientation refers to an</tspan><tspan x="2216.5" dy="23.8">individual's emotional, romantic, or</tspan><tspan x="2216.5" dy="23.8">sexual attraction to others,</tspan><tspan x="2216.5" dy="23.8">influencing language use through</tspan><tspan x="2216.5" dy="23.8">identity expressions and societal</tspan><tspan x="2216.5" dy="23.8">interactions.</tspan></text></g>
<g id="n-q12c"><rect x="1830" y="3605" width="323" height="193"/><text y="3636.1"><tspan x="1843.5">"The study of the language in gay,</tspan><tspan x="1843.5" dy="23.8">lesbian, and transgendered</tspan><tspan x="1843.5" dy="23.8">communities is still its relative</tspan><tspan x="1843.5" dy="23.8">infancy, and it has had a number of</tspan><tspan x="1843.5" dy="23.8">growing pains to work out,"</tspan><tspan x="1843.5" dy="23.8">(Language, Culture and Society</tspan><tspan x="1843.5" dy="23.8">pg.285)</tspan></text></g>
<g id="n-l12c"><rect x="2203" y="3617" width="315" height="169"/><text y="3648"><tspan x="2216.5">The study of language in gay,</tspan><tspan x="2216.5" dy="23.8">lesbian, and transgender</tspan><tspan x="2216.5" dy="23.8">communities examines how these</tspan><tspan x="2216.5" dy="23.8">groups use and adapt language to</tspan><tspan x="2216.5" dy="23.8">express identity, solidarity, and</tspan><tspan x="2216.5" dy="23.8">resistance to norms.</tspan></text></g>
</g>

<g class="r">
<g id="n-h7"><rect x="1555" y="4217" width="325" height="98"/><text y="4248.2"><tspan x="1568.5">Language and Ideology:Variation in</tspan><tspan x="1568.5" dy="23.8">Class, "Race:, Ethnicity and</tspan><tspan x="1568.5" dy="23.8">Nationality 2</tspan></text></g>
<g id="n-q13a"><rect x="1930" y="3824" width="328" height="264"/><text y="3854.9"><tspan x="1943.5">"The language of Asian Americans</tspan><tspan x="1943.5" dy="23.8">is as diverse as the number of</tspan><tspan x="1943.5" dy="23.8">countries in Asia, because there are</tspan><tspan x="1943.5" dy="23.8">literally speakers in the United</tspan><tspan x="1943.5" dy="23.8">States from every one of them.....</tspan><tspan x="1943.5" dy="23.8">Acording to the 2010 US census,</tspan><tspan x="1943.5" dy="23.8">there are over 17 million people</tspan><tspan x="1943.5" dy="23.8">who claim Asian or Pacific</tspan><tspan x="1943.5" dy="23.8">heritage." (Language, Culture and</tspan><tspan x="1943.5" dy="23.8">Society pg. 216)</tspan></text></g>
<g id="n-l13a"><rect x="2308" y="3883" width="329" height="145"/><text y="3913.9"><tspan x="2321.5">The Asian American community in</tspan><tspan x="2321.5" dy="23.8">the United States comprises</tspan><tspan x="2321.5" dy="23.8">individuals from various Asian</tspan><tspan x="2321.5" dy="23.8">countries, reflecting a rich linguistic</tspan><tspan x="2321.5" dy="23.8">and cultural diversity.</tspan></text></g>
<g id="n-q13b"><rect x="1930" y="4098" width="321" height="335"/><text y="4128.7"><tspan x="1943.5">"Such a large linguistic variety (in</tspan><tspan x="1943.5" dy="23.8">both languages and dialects) as</tspan><tspan x="1943.5" dy="23.8">exists India poses a number of</tspan><tspan x="1943.5" dy="23.8">questions. Although it might be</tspan><tspan x="1943.5" dy="23.8">expected that having one official</tspan><tspan x="1943.5" dy="23.8">language would tend to promote</tspan><tspan x="1943.5" dy="23.8">unity in a multiethnic nation, such</tspan><tspan x="1943.5" dy="23.8">unity would be achieved at a</tspan><tspan x="1943.5" dy="23.8">considerable lost of prestige to</tspan><tspan x="1943.5" dy="23.8">other native languages spoken by</tspan><tspan x="1943.5" dy="23.8">many millions of people."</tspan><tspan x="1943.5" dy="23.8">(Language Culture and Society pg.</tspan><tspan x="1943.5" dy="23.8">323)</tspan></text></g>
<g id="n-l13b"><rect x="2301" y="4181" width="319" height="169"/><text y="4212"><tspan x="2314.5">India, with its vast linguistic</tspan><tspan x="2314.5" dy="23.8">diversity, faces challenges in</tspan><tspan x="2314.5" dy="23.8">selecting an official language that</tspan><tspan x="2314.5" dy="23.8">balances unity and preservation of</tspan><tspan x="2314.5" dy="23.8">native languages' cultural</tspan><tspan x="2314.5" dy="23.8">significance.</tspan></text></g>
<g id="n-q13c"><rect x="1930" y="4443" width="319" height="264"/><text y="4473.9"><tspan x="1943.5">"Language is also an important</tspan><tspan x="1943.5" dy="23.8">marker at another level. Although</tspan><tspan x="1943.5" dy="23.8">not every language has a country,</tspan><tspan x="1943.5" dy="23.8">and few countries have only one</tspan><tspan x="1943.5" dy="23.8">language, for many people there is</tspan><tspan x="1943.5" dy="23.8">an almost visceral connection</tspan><tspan x="1943.5" dy="23.8">between a nation-state and some</tspan><tspan x="1943.5" dy="23.8">of the languages used within its</tspan><tspan x="1943.5" dy="23.8">borders." (Language, Culture and</tspan><tspan x="1943.5" dy="23.8">Society pg.327)</tspan></text></g>
<g id="n-l13c"><rect x="2299" y="4502" width="321" height="145"/><text y="4532.9"><tspan x="2312.5">The area highlights the deep</tspan><tspan x="2312.5" dy="23.8">connection between language and</tspan><tspan x="2312.5" dy="23.8">national identity, emphasizing how</tspan><tspan x="2312.5" dy="23.8">language often symbolizes and</tspan><tspan x="2312.5" dy="23.8">strengthens ties to a nation-state.</tspan></text></g>
</g>
</g>
</svg>
